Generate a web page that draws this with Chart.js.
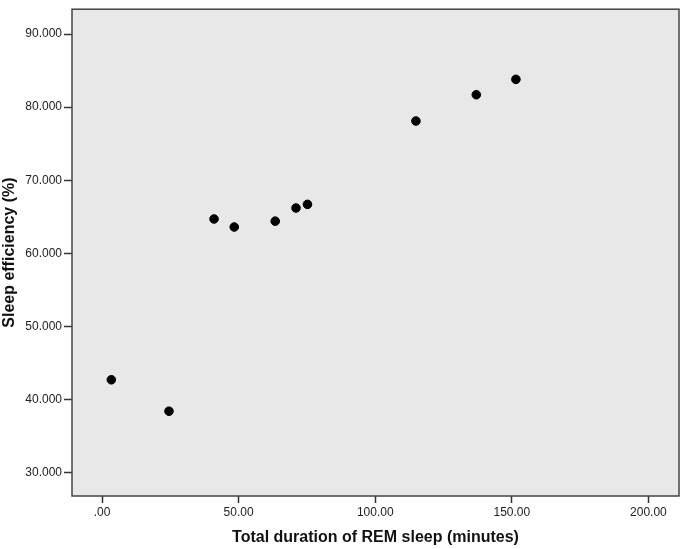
<!DOCTYPE html>
<html>
<head>
<meta charset="utf-8">
<script src="https://cdn.jsdelivr.net/npm/chart.js@4/dist/chart.umd.min.js"></script>
<style>
  body { margin: 0; background: #fff; }
  #wrap { width: 685px; height: 549px; }
</style>
</head>
<body>
<div id="wrap"><canvas id="scatter"></canvas></div>
<script>
// REM sleep (minutes) vs sleep efficiency (%)
const remMinutes = [3.4, 24.5, 41.0, 48.4, 63.4, 71.0, 75.2, 114.9, 137.0, 151.5];
const efficiency = [42.7, 38.4, 64.7, 63.6, 64.4, 66.2, 66.7, 78.1, 81.7, 83.8];
const xTicks = [0, 50, 100, 150, 200];
const yTicks = [30, 40, 50, 60, 70, 80, 90];

const points = remMinutes.map((x, i) => ({ x: x, y: efficiency[i] }));

// grey plot area + frame like SPSS output
const plotFrame = {
  id: "plotFrame",
  beforeDraw(chart) {
    const a = chart.chartArea, ctx = chart.ctx;
    ctx.save();
    ctx.fillStyle = "#e8e8e8";
    ctx.fillRect(a.left, a.top, a.right - a.left, a.bottom - a.top);
    ctx.restore();
  },
  afterDraw(chart) {
    const a = chart.ctx, c = chart.chartArea;
    a.save();
    a.strokeStyle = "#444";
    a.lineWidth = 1.5;
    a.strokeRect(c.left, c.top, c.right - c.left, c.bottom - c.top);
    a.restore();
  }
};

const tickFont = { family: "'Liberation Sans', Arial, sans-serif", size: 12 };
const titleFont = { family: "'Liberation Sans', Arial, sans-serif", size: 16, weight: "bold" };

new Chart(document.getElementById("scatter"), {
  type: "scatter",
  data: {
    datasets: [{
      data: points,
      backgroundColor: "#000",
      borderColor: "#000",
      pointRadius: 4.3,
      pointHoverRadius: 4.3
    }]
  },
  options: {
    responsive: true,
    maintainAspectRatio: false,
    animation: false,
    layout: { padding: { top: 6, right: 6, left: 0, bottom: 0 } },
    plugins: { legend: { display: false }, tooltip: { enabled: false } },
    scales: {
      x: {
        type: "linear",
        min: -11,
        max: 211.2,
        afterBuildTicks: axis => { axis.ticks = xTicks.map(v => ({ value: v })); },
        afterFit: axis => { axis.height = 53; },
        ticks: {
          color: "#222",
          font: tickFont,
          padding: 2,
          maxRotation: 0,
          callback: v => v === 0 ? ".00" : v.toFixed(2)
        },
        grid: { drawOnChartArea: false, tickLength: 7, tickColor: "#333", tickWidth: 1.5 },
        border: { display: false },
        title: {
          display: true,
          text: "Total duration of REM sleep (minutes)",
          color: "#111",
          font: titleFont,
          padding: { top: 0, bottom: 1.5 }
        }
      },
      y: {
        type: "linear",
        min: 26.8,
        max: 93.4,
        afterBuildTicks: axis => { axis.ticks = yTicks.map(v => ({ value: v })); },
        afterFit: axis => { axis.width = 72; },
        ticks: {
          color: "#222",
          font: tickFont,
          padding: 2,
          callback: v => v.toFixed(3)
        },
        grid: { drawOnChartArea: false, tickLength: 8, tickColor: "#333", tickWidth: 1.5 },
        border: { display: false },
        title: {
          display: true,
          text: "Sleep efficiency (%)",
          color: "#111",
          font: titleFont,
          padding: { top: 0, bottom: 0 }
        }
      }
    }
  },
  plugins: [plotFrame]
});
</script>
</body>
</html>
